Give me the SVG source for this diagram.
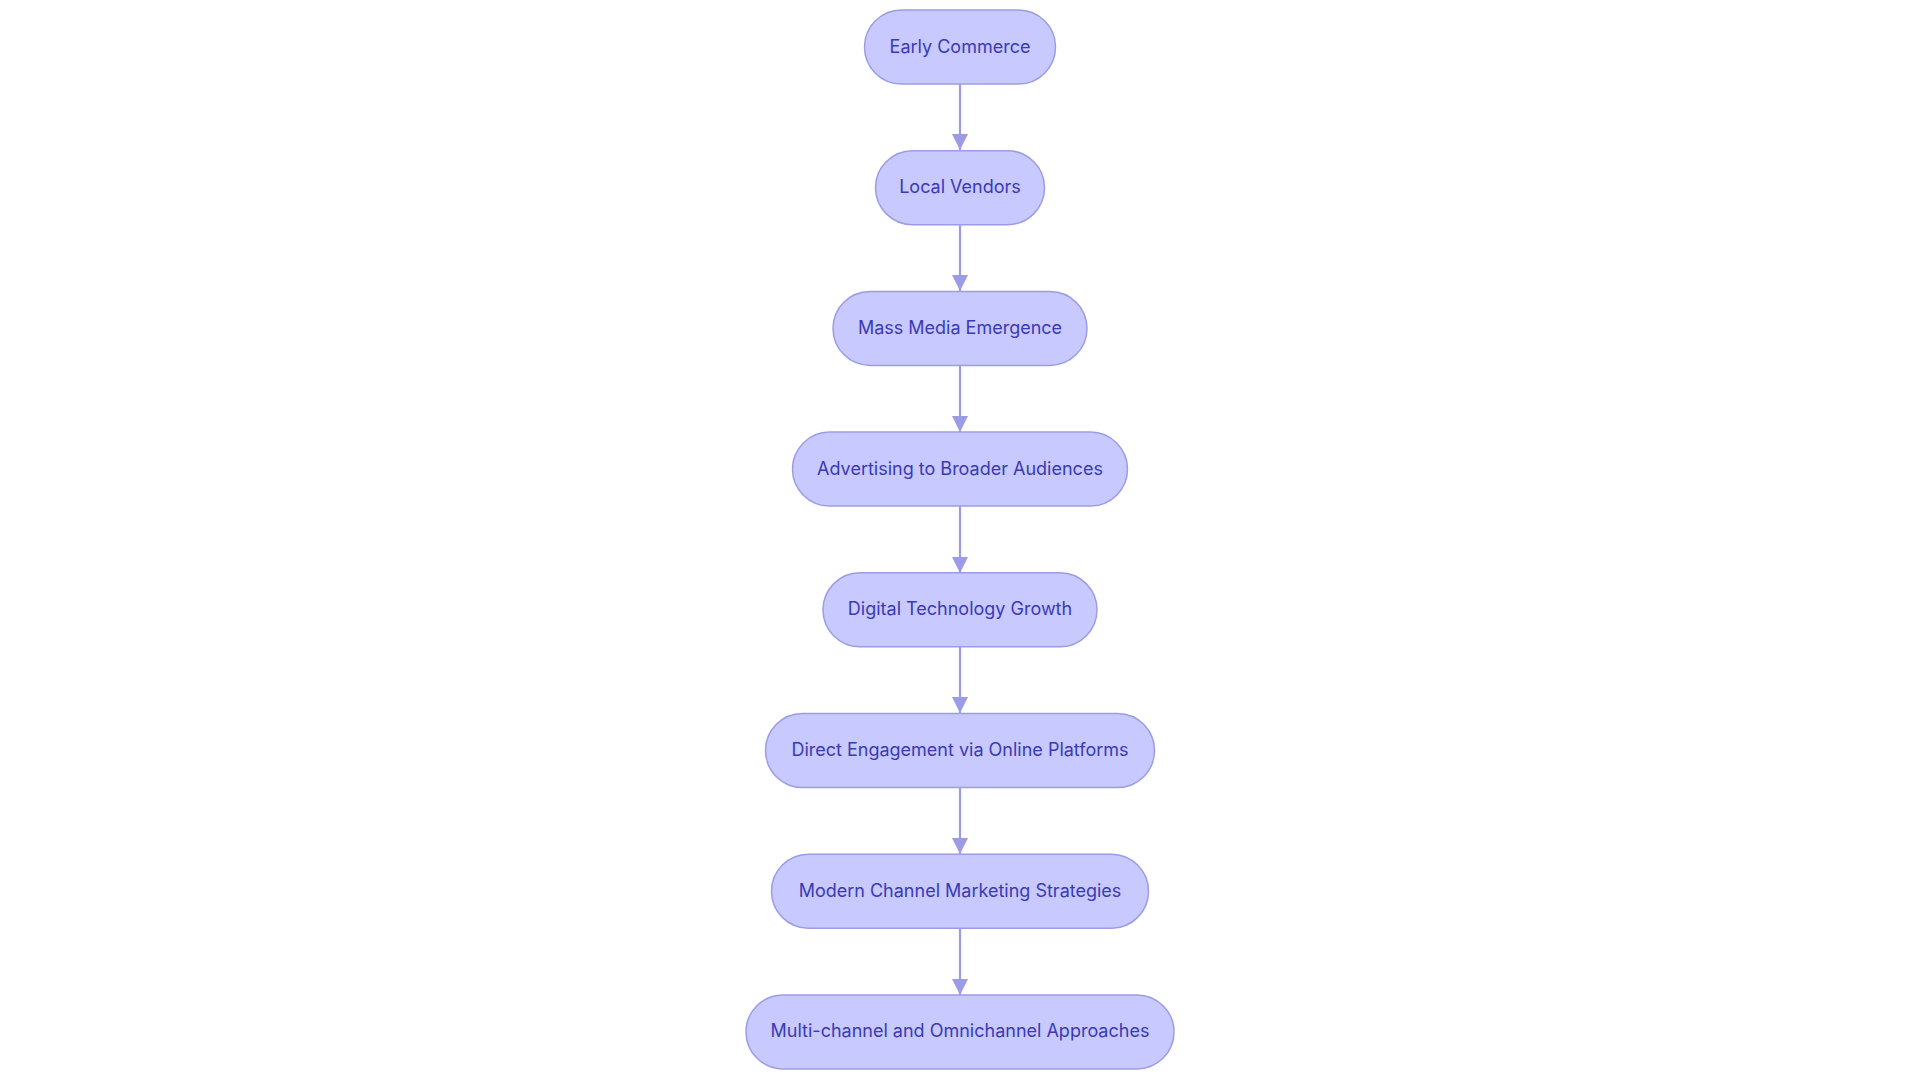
<svg xmlns="http://www.w3.org/2000/svg" width="1920" height="1083" viewBox="0 0 1920 1083">
<defs>
<style>
.node rect{fill:#c8c9fe;stroke:#9c9ce6;stroke-width:1.5}
.node text{font-family:Inter,"Noto Sans","Liberation Sans",sans-serif;font-size:18px;fill:#3a3ab4;text-anchor:middle;dominant-baseline:central}
.edges line{stroke:#9c9ce6;stroke-width:2.2;fill:none}
</style>
<marker id="arrow" viewBox="0 0 16 16" refX="16" refY="8" markerWidth="16" markerHeight="16" markerUnits="userSpaceOnUse" orient="auto">
<path d="M0,0 L16,8 L0,16 z" fill="#9c9ce6"/>
</marker>
</defs>
<rect width="1920" height="1083" fill="#ffffff"/>
<g class="edges">
<line x1="960" y1="84" x2="960" y2="150" marker-end="url(#arrow)"/>
<line x1="960" y1="225" x2="960" y2="291" marker-end="url(#arrow)"/>
<line x1="960" y1="365" x2="960" y2="432" marker-end="url(#arrow)"/>
<line x1="960" y1="506" x2="960" y2="573" marker-end="url(#arrow)"/>
<line x1="960" y1="647" x2="960" y2="713" marker-end="url(#arrow)"/>
<line x1="960" y1="788" x2="960" y2="854" marker-end="url(#arrow)"/>
<line x1="960" y1="928" x2="960" y2="995" marker-end="url(#arrow)"/>
</g>
<g id="n1" class="node"><rect x="864.5" y="10" width="191" height="74" rx="37"/><text x="960" y="46">Early Commerce</text></g>
<g id="n2" class="node"><rect x="875.5" y="150.7" width="169" height="74" rx="37"/><text x="960" y="186.7">Local Vendors</text></g>
<g id="n3" class="node"><rect x="833" y="291.4" width="254" height="74" rx="37"/><text x="960" y="327.4">Mass Media Emergence</text></g>
<g id="n4" class="node"><rect x="792.5" y="432.1" width="335" height="74" rx="37"/><text x="960" y="468.1">Advertising to Broader Audiences</text></g>
<g id="n5" class="node"><rect x="823" y="572.8" width="274" height="74" rx="37"/><text x="960" y="608.8">Digital Technology Growth</text></g>
<g id="n6" class="node"><rect x="765.5" y="713.5" width="389" height="74" rx="37"/><text x="960" y="749.5">Direct Engagement via Online Platforms</text></g>
<g id="n7" class="node"><rect x="771.5" y="854.2" width="377" height="74" rx="37"/><text x="960" y="890.2">Modern Channel Marketing Strategies</text></g>
<g id="n8" class="node"><rect x="746" y="994.9" width="428" height="74" rx="37"/><text x="960" y="1030.9">Multi-channel and Omnichannel Approaches</text></g>
</svg>
